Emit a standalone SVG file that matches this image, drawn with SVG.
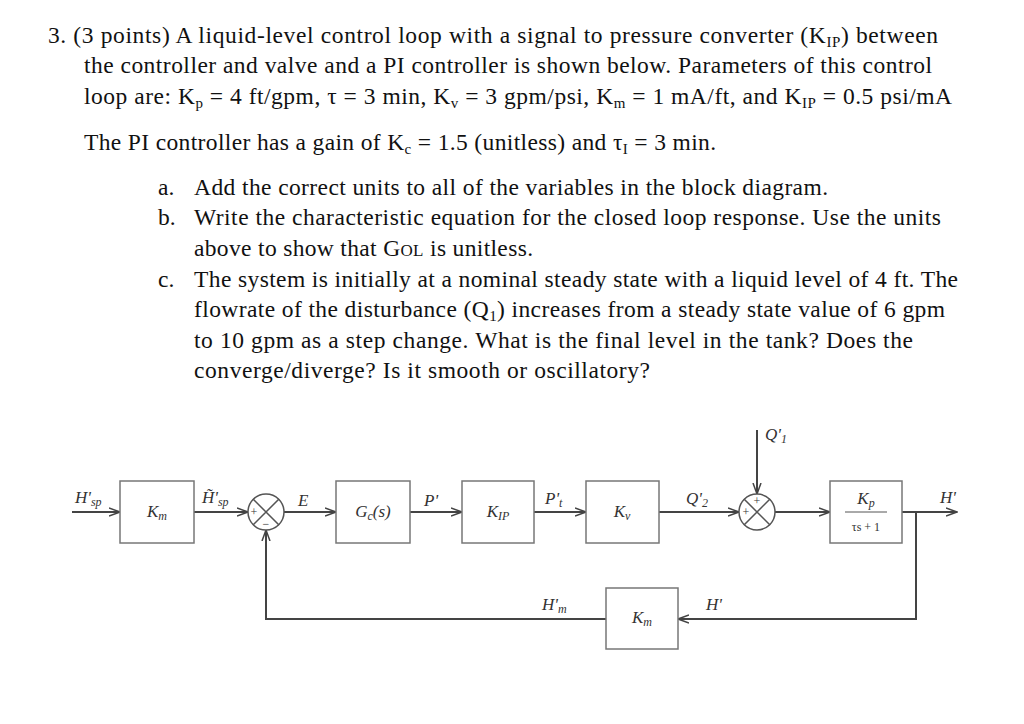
<svg xmlns="http://www.w3.org/2000/svg" width="1024" height="724" viewBox="0 0 1024 724">
<defs>
<marker id="a" markerWidth="12" markerHeight="10" refX="11" refY="5" orient="auto" markerUnits="userSpaceOnUse"><path d="M0,1 L11,5 L0,9" fill="none" stroke="#444" stroke-width="1.5"/></marker>
</defs>
<style>
.t{font-family:"Liberation Serif",serif;font-size:23.5px;fill:#111}
.b{fill:#fff;stroke:#777;stroke-width:1.5}
.l{fill:none;stroke:#444;stroke-width:2}
.m{font-family:"Liberation Serif",serif;font-style:italic;font-size:17px;fill:#333}
.s{font-family:"Liberation Serif",serif;font-size:12px;fill:#333}
</style>
<rect width="1024" height="724" fill="#fff"/>
<g id="text">
<text class="t" x="48" y="43" textLength="890" lengthAdjust="spacing">3.  (3 points)  A liquid-level control loop with a signal to pressure converter (K<tspan font-size="15" dy="4">IP</tspan><tspan dy="-4">) between</tspan></text>
<text class="t" x="84" y="73" textLength="848" lengthAdjust="spacing">the controller and valve and a PI controller is shown below.  Parameters of this control</text>
<text class="t" x="84" y="104" textLength="868" lengthAdjust="spacing">loop are:  K<tspan font-size="15" dy="4">p</tspan><tspan dy="-4"> = 4 ft/gpm, τ = 3 min, K</tspan><tspan font-size="15" dy="4">v</tspan><tspan dy="-4"> = 3 gpm/psi, K</tspan><tspan font-size="15" dy="4">m</tspan><tspan dy="-4"> = 1 mA/ft, and K</tspan><tspan font-size="15" dy="4">IP</tspan><tspan dy="-4"> = 0.5 psi/mA</tspan></text>
<text class="t" x="84" y="150" textLength="632" lengthAdjust="spacing">The PI controller has a gain of K<tspan font-size="15" dy="4">c</tspan><tspan dy="-4"> = 1.5 (unitless) and τ</tspan><tspan font-size="15" dy="4">I</tspan><tspan dy="-4"> = 3 min.</tspan></text>
<text class="t" x="158" y="195">a.</text><text class="t" x="194" y="195" textLength="634" lengthAdjust="spacing">Add the correct units to all of the variables in the block diagram.</text>
<text class="t" x="158" y="225">b.</text><text class="t" x="194" y="225" textLength="747" lengthAdjust="spacing">Write the characteristic equation for the closed loop response.  Use the units</text>
<text class="t" x="194" y="256" textLength="339" lengthAdjust="spacing">above to show that G<tspan font-size="17">OL</tspan> is unitless.</text>
<text class="t" x="158" y="287">c.</text><text class="t" x="194" y="287" textLength="764" lengthAdjust="spacing">The system is initially at a nominal steady state with a liquid level of 4 ft. The</text>
<text class="t" x="194" y="317" textLength="751" lengthAdjust="spacing">flowrate of the disturbance (Q<tspan font-size="15" dy="4">1</tspan><tspan dy="-4">) increases from a steady state value of 6 gpm</tspan></text>
<text class="t" x="194" y="348" textLength="719" lengthAdjust="spacing">to 10 gpm as a step change.  What is the final level in the tank?  Does the</text>
<text class="t" x="194" y="378" textLength="456" lengthAdjust="spacing">converge/diverge?  Is it smooth or oscillatory?</text>
</g>
<g id="connectors">
<line class="l" x1="72" y1="512" x2="120" y2="512" marker-end="url(#a)"/>
<line class="l" x1="194" y1="512" x2="248" y2="512" marker-end="url(#a)"/>
<line class="l" x1="284" y1="512" x2="336" y2="512" marker-end="url(#a)"/>
<line class="l" x1="410" y1="512" x2="462" y2="512" marker-end="url(#a)"/>
<line class="l" x1="534" y1="512" x2="586" y2="512" marker-end="url(#a)"/>
<line class="l" x1="659" y1="512" x2="739" y2="512" marker-end="url(#a)"/>
<line class="l" x1="757" y1="430" x2="757" y2="494" marker-end="url(#a)"/>
<line class="l" x1="775" y1="512" x2="830" y2="512" marker-end="url(#a)"/>
<line class="l" x1="902" y1="512" x2="957" y2="512" marker-end="url(#a)"/>
<polyline class="l" points="916,512 916,619 678,619" marker-end="url(#a)"/>
<polyline class="l" points="606,619 266,619 266,530" marker-end="url(#a)"/>
</g>
<g id="sum1"><circle cx="266" cy="512" r="18" fill="#fff" stroke="#555" stroke-width="1.5"/><path d="M253,499 L279,525 M279,499 L253,525" stroke="#555" stroke-width="1.5"/><text class="s" x="254" y="516" text-anchor="middle">+</text><text class="s" x="266" y="528" text-anchor="middle">−</text></g>
<g id="sum2"><circle cx="757" cy="512" r="18" fill="#fff" stroke="#555" stroke-width="1.5"/><path d="M744,499 L770,525 M770,499 L744,525" stroke="#555" stroke-width="1.5"/><text class="s" x="746" y="516" text-anchor="middle">+</text><text class="s" x="757" y="505" text-anchor="middle">+</text></g>
<g id="km1"><rect class="b" x="120" y="481" width="74" height="62"/><text class="m" x="157" y="517" text-anchor="middle">K<tspan font-size="12" dy="3">m</tspan></text></g>
<g id="gc"><rect class="b" x="336" y="481" width="74" height="62"/><text class="m" x="373" y="517" text-anchor="middle">G<tspan font-size="12" dy="3">c</tspan><tspan dy="-3">(s)</tspan></text></g>
<g id="kip"><rect class="b" x="462" y="481" width="72" height="62"/><text class="m" x="498" y="517" text-anchor="middle">K<tspan font-size="12" dy="3">IP</tspan></text></g>
<g id="kv"><rect class="b" x="586" y="481" width="73" height="62"/><text class="m" x="622" y="517" text-anchor="middle">K<tspan font-size="12" dy="3">v</tspan></text></g>
<g id="kp"><rect class="b" x="830" y="481" width="72" height="62"/><text class="m" x="866" y="504" text-anchor="middle">K<tspan font-size="12" dy="3">p</tspan></text><line x1="845" y1="512" x2="887" y2="512" stroke="#555"/><text class="s" x="866" y="531" text-anchor="middle">τs + 1</text></g>
<g id="km2"><rect class="b" x="606" y="588" width="72" height="61"/><text class="m" x="642" y="623" text-anchor="middle">K<tspan font-size="12" dy="3">m</tspan></text></g>
<g id="labels">
<text class="m" x="75" y="503">H'<tspan font-size="12" dy="3">sp</tspan></text>
<text class="m" x="202" y="503">H̃'<tspan font-size="12" dy="3">sp</tspan></text>
<text class="m" x="298" y="506">E</text>
<text class="m" x="424" y="506">P'</text>
<text class="m" x="545" y="504">P'<tspan font-size="12" dy="3">t</tspan></text>
<text class="m" x="686" y="504">Q'<tspan font-size="12" dy="3">2</tspan></text>
<text class="m" x="765" y="440">Q'<tspan font-size="12" dy="3">1</tspan></text>
<text class="m" x="940" y="503">H'</text>
<text class="m" x="706" y="610">H'</text>
<text class="m" x="542" y="610">H'<tspan font-size="12" dy="3">m</tspan></text>
</g>
</svg>
